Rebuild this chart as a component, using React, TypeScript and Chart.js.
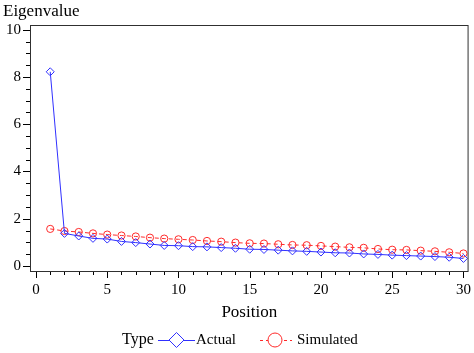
import React, { useEffect, useRef } from "react";
import { Chart, registerables } from "chart.js";

Chart.register(...registerables);

const positions = [1, 2, 3, 4, 5, 6, 7, 8, 9, 10, 11, 12, 13, 14, 15, 16, 17, 18, 19, 20, 21, 22, 23, 24, 25, 26, 27, 28, 29, 30];
const actual = [8.22, 1.38, 1.27, 1.17, 1.14, 1.04, 0.99, 0.93, 0.87, 0.86, 0.82, 0.81, 0.78, 0.75, 0.71, 0.7, 0.67, 0.64, 0.62, 0.59, 0.56, 0.55, 0.51, 0.49, 0.46, 0.44, 0.42, 0.4, 0.37, 0.32];
const simulated = [1.57, 1.48, 1.44, 1.38, 1.33, 1.29, 1.25, 1.2, 1.16, 1.13, 1.1, 1.06, 1.03, 0.99, 0.96, 0.95, 0.92, 0.89, 0.88, 0.85, 0.82, 0.79, 0.77, 0.72, 0.69, 0.68, 0.65, 0.62, 0.58, 0.53];
const yTicks = [0, 2, 4, 6, 8, 10];
const xTicks = [0, 5, 10, 15, 20, 25, 30];

const FONT = '"Liberation Serif", "Times New Roman", serif';
const BLUE = "#3030ff";
const RED = "#ff2a2a";

const framePlugin = {
  id: "framePlugin",
  afterDraw(chart: any) {
    const { ctx, chartArea: a, scales } = chart;
    const xs = scales.x;
    const ys = scales.y;
    ctx.save();
    ctx.strokeStyle = "#303030";
    ctx.lineWidth = 1;
    ctx.strokeRect(a.left + 0.5, a.top + 0.5, a.right - a.left - 1, a.bottom - a.top - 1);
    ctx.strokeStyle = "#000";
    ctx.beginPath();
    for (let v = 0; v <= 10.001; v += 0.5) {
      const py = Math.round(ys.getPixelForValue(v)) + 0.5;
      const len = Math.abs(v % 2) < 1e-6 ? 7 : 4;
      ctx.moveTo(a.left - len, py);
      ctx.lineTo(a.left, py);
    }
    for (let v = 0; v <= 30; v += 1) {
      const px = Math.round(xs.getPixelForValue(v)) + 0.5;
      const len = v % 5 === 0 ? 6 : 3;
      ctx.moveTo(px, a.bottom);
      ctx.lineTo(px, a.bottom + len);
    }
    ctx.stroke();

    ctx.fillStyle = "#000";
    ctx.font = `17px ${FONT}`;
    ctx.textBaseline = "alphabetic";
    ctx.textAlign = "left";
    ctx.fillText("Eigenvalue", 3, 16);

    const ly = 340;
    ctx.font = `16px ${FONT}`;
    ctx.textBaseline = "middle";
    ctx.fillText("Type", 122, ly);
    ctx.font = `15px ${FONT}`;
    ctx.strokeStyle = BLUE;
    ctx.lineWidth = 1;
    ctx.beginPath();
    ctx.moveTo(158, ly + 0.5);
    ctx.lineTo(195, ly + 0.5);
    ctx.stroke();
    const dx = 176.5, dr = 7.5;
    ctx.fillStyle = "#fff";
    ctx.beginPath();
    ctx.moveTo(dx, ly - dr);
    ctx.lineTo(dx + dr, ly);
    ctx.lineTo(dx, ly + dr);
    ctx.lineTo(dx - dr, ly);
    ctx.closePath();
    ctx.fill();
    ctx.stroke();
    ctx.fillStyle = "#000";
    ctx.fillText("Actual", 196, ly);
    ctx.strokeStyle = RED;
    ctx.setLineDash([3, 3]);
    ctx.beginPath();
    ctx.moveTo(260, ly + 0.5);
    ctx.lineTo(292, ly + 0.5);
    ctx.stroke();
    ctx.setLineDash([]);
    ctx.fillStyle = "#fff";
    ctx.beginPath();
    ctx.arc(275, ly, 7, 0, Math.PI * 2);
    ctx.fill();
    ctx.stroke();
    ctx.fillStyle = "#000";
    ctx.fillText("Simulated", 297, ly);
    ctx.restore();
  },
};

export default function App() {
  const canvasRef = useRef<HTMLCanvasElement | null>(null);

  useEffect(() => {
    document.body.style.margin = "0";
    const canvas = canvasRef.current;
    if (!canvas) return;
    const chart = new Chart(canvas, {
      type: "line",
      data: {
        datasets: [
          {
            label: "Actual",
            data: positions.map((p, i) => ({ x: p, y: actual[i] })),
            borderColor: BLUE,
            borderWidth: 1,
            pointStyle: "rectRot",
            pointRadius: 4,
            pointBorderColor: BLUE,
            pointBackgroundColor: "rgba(255,255,255,0)",
            pointBorderWidth: 1,
            tension: 0,
          },
          {
            label: "Simulated",
            data: positions.map((p, i) => ({ x: p, y: simulated[i] })),
            borderColor: RED,
            borderWidth: 1,
            borderDash: [4, 3],
            pointStyle: "circle",
            pointRadius: 3.6,
            pointBorderColor: RED,
            pointBackgroundColor: "rgba(255,255,255,0)",
            pointBorderWidth: 1,
            tension: 0,
          },
        ],
      },
      options: {
        animation: false,
        responsive: false,
        devicePixelRatio: 1,
        layout: { autoPadding: false, padding: { top: 25, right: 5, left: 0, bottom: 0 } },
        plugins: {
          legend: { display: false },
          title: { display: false },
          tooltip: { enabled: false },
        },
        scales: {
          x: {
            type: "linear",
            min: -0.42,
            max: 30.36,
            afterBuildTicks: (scale: any) => {
              scale.ticks = xTicks.map((v) => ({ value: v }));
            },
            afterFit: (scale: any) => {
              scale.height = 81;
            },
            grid: { display: true, drawOnChartArea: false, color: "rgba(0,0,0,0)", tickLength: 6 },
            border: { display: false },
            ticks: {
              color: "#000",
              font: { family: FONT, size: 15 },
              padding: 3,
              maxRotation: 0,
              autoSkip: false,
              callback: (v: any) => String(v),
            },
            title: {
              display: true,
              text: "Position",
              color: "#000",
              font: { family: FONT, size: 17 },
              padding: { top: 0, bottom: 30 },
            },
          },
          y: {
            type: "linear",
            min: -0.254,
            max: 10.2,
            afterBuildTicks: (scale: any) => {
              scale.ticks = yTicks.map((v) => ({ value: v }));
            },
            afterFit: (scale: any) => {
              scale.width = 30;
            },
            grid: { display: true, drawOnChartArea: false, color: "rgba(0,0,0,0)", tickLength: 8 },
            border: { display: false },
            ticks: {
              color: "#000",
              font: { family: FONT, size: 15 },
              padding: 1,
              autoSkip: false,
              callback: (v: any) => String(v),
            },
          },
        },
      },
      plugins: [framePlugin],
    } as any);
    return () => chart.destroy();
  }, []);

  return (
    <div style={{ width: 474, height: 353, position: "relative", background: "#fff" }}>
      <canvas ref={canvasRef} width={474} height={353} style={{ display: "block" }} />
    </div>
  );
}
